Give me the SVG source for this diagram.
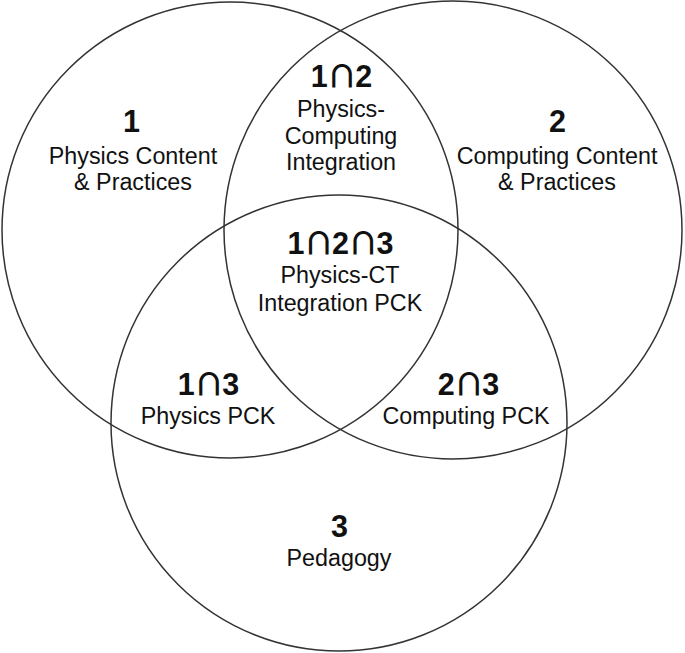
<svg xmlns="http://www.w3.org/2000/svg" width="685" height="653" viewBox="0 0 685 653">
<style>
.c{fill:none;stroke:#333;stroke-width:1.5}
.n{font-family:"Liberation Sans",Arial,sans-serif;font-size:30.5px;font-weight:bold;fill:#111;text-anchor:middle;letter-spacing:-1px}
.n .u{font-family:"Noto Sans CJK JP","DejaVu Sans",sans-serif;font-weight:bold;letter-spacing:-2px}
.t{font-family:"Liberation Sans",Arial,sans-serif;font-size:23.3px;fill:#111;text-anchor:middle}
</style>
<rect width="685" height="653" fill="#fff"/>
<g id="circles">
<circle id="c1" class="c" cx="230" cy="230" r="228"/>
<circle id="c2" class="c" cx="453" cy="230" r="229"/>
<circle id="c3" class="c" cx="339" cy="423" r="228"/>
</g>
<g id="r1"><text class="n" x="131" y="132">1</text><text class="t" x="133" y="164">Physics Content</text><text class="t" x="133" y="190">&amp; Practices</text></g>
<g id="r12"><text class="n" x="341" y="87">1<tspan class="u">∩</tspan>2</text><text class="t" x="341" y="117">Physics-</text><text class="t" x="341" y="144">Computing</text><text class="t" x="341" y="170">Integration</text></g>
<g id="r2"><text class="n" x="557" y="132">2</text><text class="t" x="557" y="164">Computing Content</text><text class="t" x="557" y="190">&amp; Practices</text></g>
<g id="r123"><text class="n" x="340" y="254">1<tspan class="u">∩</tspan>2<tspan class="u">∩</tspan>3</text><text class="t" x="340" y="283">Physics-CT</text><text class="t" x="340" y="311">Integration PCK</text></g>
<g id="r13"><text class="n" x="208" y="395">1<tspan class="u">∩</tspan>3</text><text class="t" x="208" y="424">Physics PCK</text></g>
<g id="r23"><text class="n" x="468" y="395">2<tspan class="u">∩</tspan>3</text><text class="t" x="466" y="424">Computing PCK</text></g>
<g id="r3"><text class="n" x="339" y="537">3</text><text class="t" x="339" y="566">Pedagogy</text></g>
</svg>
